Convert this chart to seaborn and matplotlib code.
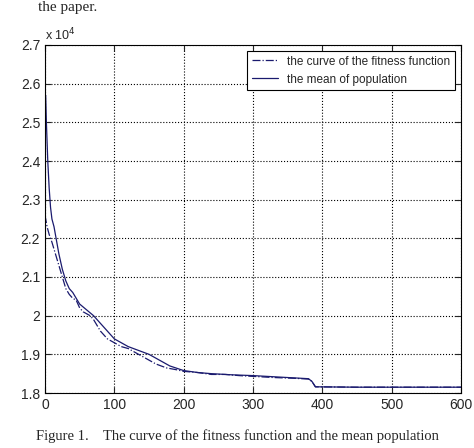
import matplotlib
matplotlib.use("Agg")
import matplotlib.pyplot as plt
import seaborn as sns

sns.set_style("white")
plt.rcParams['font.family'] = ['Liberation Sans', 'DejaVu Sans']

# values in units of 1e4
gen_fit = [0, 3, 6, 10, 15, 20, 25, 30, 35, 40, 45, 50, 55, 60, 65, 70, 75, 80, 85, 90, 100, 110,
           120, 130, 145, 160, 175, 190, 200, 220, 240, 260, 280, 300, 330, 360, 380, 385, 390, 450, 500, 600]
fitness = [2.26, 2.23, 2.21, 2.19, 2.16, 2.13, 2.10, 2.07, 2.055, 2.045, 2.04, 2.02, 2.01, 2.005, 2.0,
           1.99, 1.975, 1.96, 1.95, 1.94, 1.93, 1.92, 1.915, 1.905, 1.89, 1.875, 1.865, 1.86, 1.856, 1.853,
           1.848, 1.848, 1.845, 1.843, 1.84, 1.838, 1.836, 1.83, 1.816, 1.815, 1.815, 1.815]
gen_mean = [1, 2, 4, 6, 8, 10, 13, 16, 20, 25, 30, 35, 40, 50, 60, 70, 80, 90, 100, 110, 120, 135,
            150, 165, 180, 200, 220, 240, 270, 300, 330, 360, 380, 385, 390, 450, 500, 600]
mean_pop = [2.57, 2.50, 2.40, 2.33, 2.28, 2.25, 2.23, 2.20, 2.16, 2.12, 2.09, 2.07, 2.06, 2.03, 2.015,
            2.0, 1.98, 1.96, 1.94, 1.93, 1.92, 1.91, 1.9, 1.885, 1.87, 1.858, 1.853, 1.85, 1.847, 1.845,
            1.842, 1.839, 1.837, 1.83, 1.816, 1.815, 1.815, 1.815]

fig = plt.figure(figsize=(4.74, 4.48), dpi=100)
ax = fig.add_axes([45/474, 1-393/448, 416/474, 348/448])
navy = "#1a1a6e"
sns.lineplot(x=gen_fit, y=fitness, ax=ax, color=navy, lw=0.9, linestyle='-.',
             label='the curve of the fitness function')
sns.lineplot(x=gen_mean, y=mean_pop, ax=ax, color=navy, lw=0.9,
             label='the mean of population')
ax.set_xlim(0, 600)
ax.set_ylim(1.8, 2.7)
ax.set_xticks(range(0, 601, 100))
ax.set_yticks([1.8, 1.9, 2.0, 2.1, 2.2, 2.3, 2.4, 2.5, 2.6, 2.7])
ax.set_yticklabels(['1.8', '1.9', '2', '2.1', '2.2', '2.3', '2.4', '2.5', '2.6', '2.7'])
ax.grid(True, linestyle=':', color='black', lw=0.8)
for s in ax.spines.values():
    s.set_color('black')
    s.set_linewidth(0.8)
ax.tick_params(labelsize=10, direction='in', length=4, left=True, bottom=True, top=True, right=True)
ax.text(0, 1.005, r'x 10$^4$', transform=ax.transAxes, fontsize=9, va='bottom')
leg = ax.legend(loc='upper right', fontsize=8.5, frameon=True, fancybox=False,
                edgecolor='black', framealpha=1, borderpad=0.4, handlelength=2.2)
leg.get_frame().set_linewidth(0.8)
fig.text(0.08, 0.998, 'the paper.', fontsize=11, va='top', family=['Liberation Serif'])
fig.text(0.5, 1-436/448, 'Figure 1.    The curve of the fitness function and the mean population',
         fontsize=10.5, ha='center', va='center', family=['Liberation Serif'])
fig.savefig('out.png', dpi=100)
